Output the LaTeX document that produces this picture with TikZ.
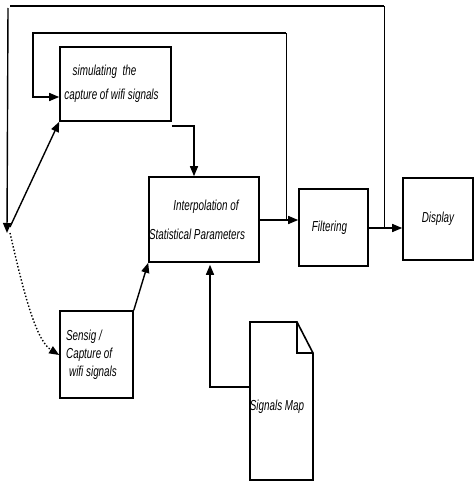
\documentclass[tikz,border=0pt]{standalone}
\usepackage{fontspec}
\newfontfamily\diagfont{Liberation Sans}[FakeStretch=0.68]
\usetikzlibrary{arrows.meta}

\tikzset{
	block/.style = {draw, line width = 1.6pt, inner sep = 0pt, align = center,
		font = \diagfont\itshape\fontsize{14.5}{16}\selectfont},
	conn/.style = {line width = 1.4pt, -{Triangle[length = 10pt, width = 8pt]}},
}

\begin{document}
\begin{tikzpicture}[x = 1pt, y = -1pt]
	\useasboundingbox (0,0) rectangle (474,482);

	% blocks
	\node[block, minimum width = 111pt, minimum height = 74pt](sim) at (115.5,84)
		{\hspace*{-22pt}simulating\ \ the\\[8pt]\hspace*{-8pt}capture of wifi signals};
	\node[block, minimum width = 110pt, minimum height = 85pt](interp) at (204,219.5)
		{\hspace*{4pt}Interpolation of\\[13pt]\hspace*{-14pt}Statistical Parameters};
	\node[block, minimum width = 69pt, minimum height = 77pt](filter) at (333.5,227.5)
		{\hspace*{-8pt}Filtering};
	\node[block, minimum width = 70pt, minimum height = 82pt](disp) at (438,219)
		{Display};
	\node[block, minimum width = 73pt, minimum height = 87pt, align = left](sens) at (96.5,354.5)
		{\hspace*{-10pt}Sensig /\\[2pt]\hspace*{-10pt}Capture of\\[2pt]\hspace*{-7pt}wifi signals};

	% signals map (document)
	\coordinate[](mapin) at (250,387);
	\draw[line width = 1.6pt, line join = miter] (250,322) -- (297,322) -- (313,353)
		-- (313,480) -- (250,480) -- cycle;
	\draw[line width = 1.6pt] (297,322) -- (297,353) -- (313,353);
	\node[font = \diagfont\itshape\fontsize{14.5}{16}\selectfont](map) at (277,407) {Signals Map};

	% branch points
	\coordinate[](fork) at (7,233);
	\coordinate[](tapF) at (286,220);
	\coordinate[](tapD) at (384,228);

	% connectors
	\draw[conn] (sim.south east) ++(0,4) -| ([xshift = -10pt]interp.north);
	\draw[conn] (interp.east |- tapF) -- (tapF -| filter.west);
	\draw[conn] (filter.east |- tapD) -- (tapD -| disp.west);
	\draw[conn] (sens.north east) -- (interp.south west);
	\draw[conn] (mapin) -| ([xshift = 6pt, yshift = -2pt]interp.south);

	\draw[line width = 0.9pt] (tapD) -- (384,6);
	\draw[line width = 1.9pt] (384,6) -- (10,6);
	\draw[conn] (8,8) -- (fork);
	\draw[conn] (fork) ++(3,-6) -- (sim.south west);
	\draw[conn, dotted] (fork) ++(3,0) .. controls (22,285) and (35,340) .. (sens.west |- 0,355);

	\draw[line width = 0.9pt] (tapF) -- (286,33);
	\draw[line width = 1.9pt] (286,33) -- (33,33) -- (33,40);
	\draw[conn] (33,33) |- ([yshift = -13pt]sim.west);
\end{tikzpicture}
\end{document}
